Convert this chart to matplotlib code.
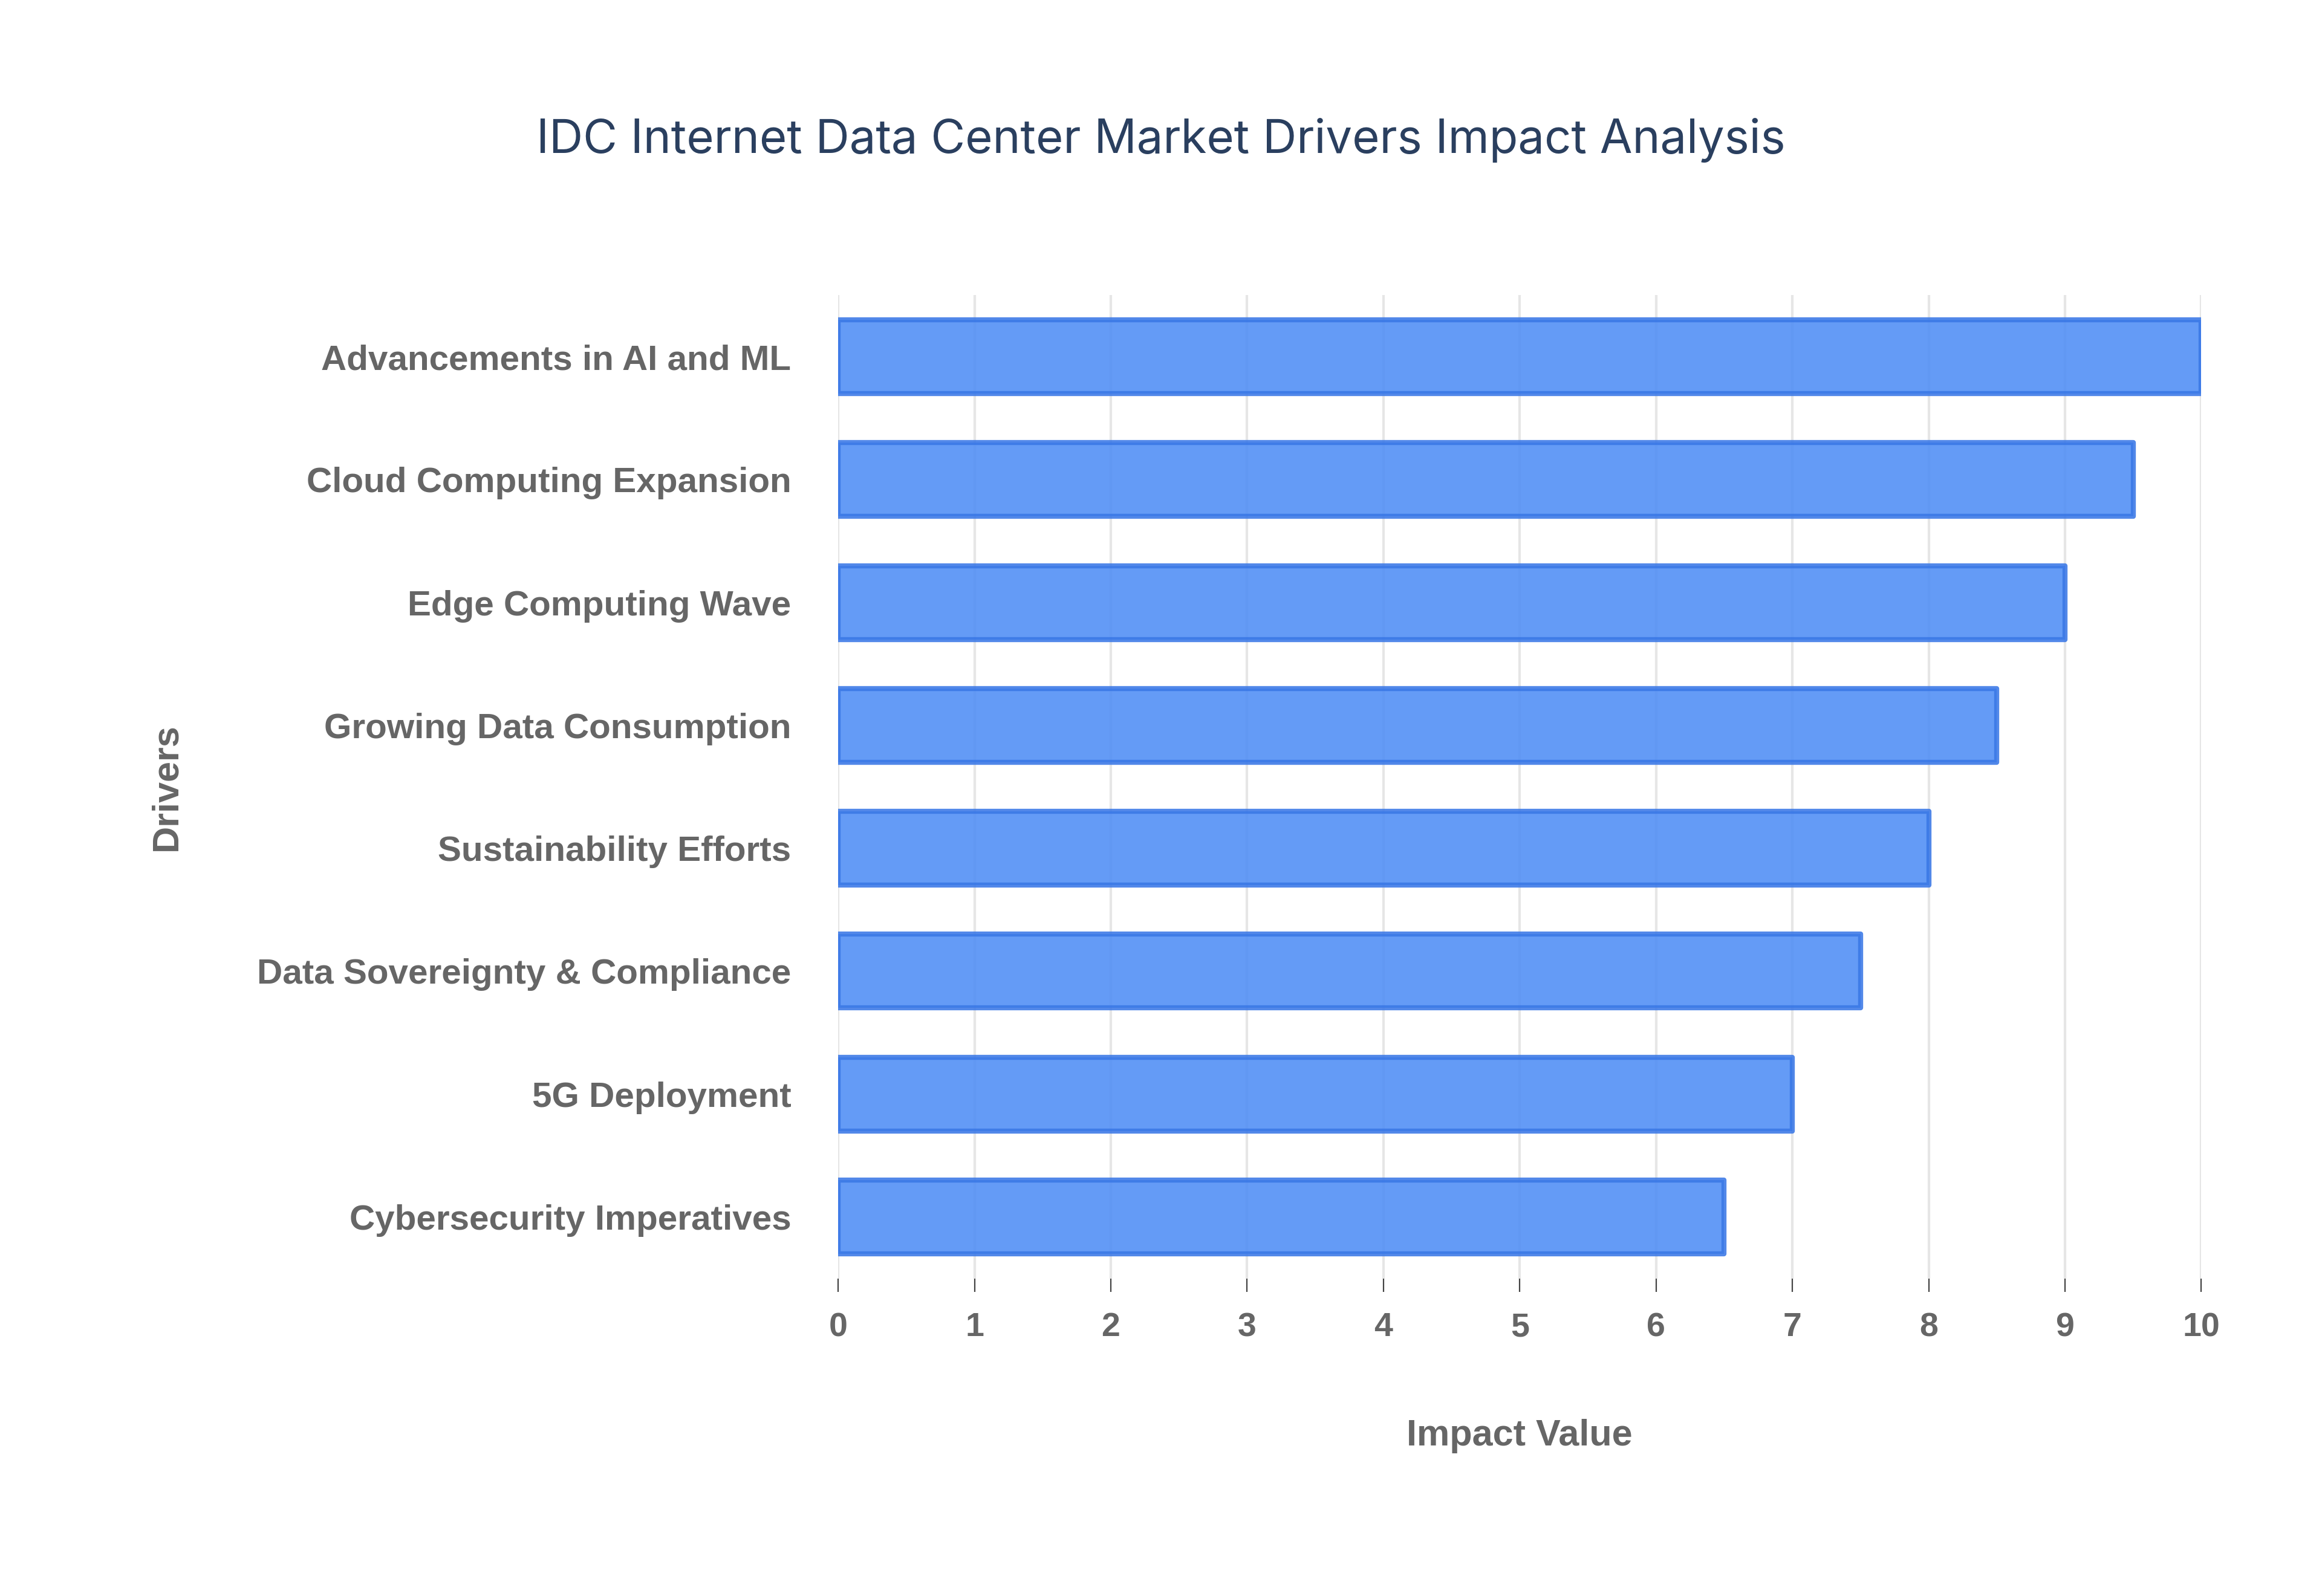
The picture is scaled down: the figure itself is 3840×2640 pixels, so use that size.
import matplotlib
matplotlib.use("Agg")
import matplotlib.pyplot as plt

drivers = ["Advancements in AI and ML", "Cloud Computing Expansion", "Edge Computing Wave",
           "Growing Data Consumption", "Sustainability Efforts", "Data Sovereignty & Compliance",
           "5G Deployment", "Cybersecurity Imperatives"]
impact = [10, 9.5, 9, 8.5, 8, 7.5, 7, 6.5]
xticks = list(range(0, 11))

fig = plt.figure(figsize=(19.2, 13.2), dpi=200)
ax = fig.add_axes([0.361, 0.199, 0.587, 0.616])
ypos = list(range(len(drivers)))[::-1]
ax.barh(ypos, impact, height=0.6, color="#4f8df5", alpha=0.88, edgecolor="#3a78e6",
        linewidth=3, joinstyle="round", zorder=3)
ax.set_xlim(0, 10)
ax.set_ylim(-0.5, len(drivers) - 0.5)
ax.set_yticks(ypos)
ax.set_yticklabels(drivers, family="Liberation Sans", fontsize=21, fontweight="bold", color="#666666")
ax.set_xticks(xticks)
ax.set_xticklabels([str(t) for t in xticks], family="Liberation Sans", fontsize=20,
                   fontweight="bold", color="#666666")
ax.tick_params(axis="y", length=0, pad=28)
ax.tick_params(axis="x", length=8, color="#444444", pad=12)
ax.grid(axis="x", color="#e6e6e6", linewidth=1.5, zorder=0)
for s in ["top", "right", "left", "bottom"]:
    ax.spines[s].set_visible(False)
ax.set_xlabel("Impact Value", family="Liberation Sans", fontsize=22, fontweight="bold",
              color="#666666", labelpad=45)
ax.set_ylabel("Drivers", family="Liberation Sans", fontsize=22, fontweight="bold",
              color="#666666")
ax.yaxis.set_label_coords(-0.48, 0.5)
fig.text(0.5, 0.912, "IDC Internet Data Center Market Drivers Impact Analysis", ha="center",
         va="center", family="Inter", fontsize=28, color="#2a3f5f")
fig.savefig("out.png", dpi=200, facecolor="white")
